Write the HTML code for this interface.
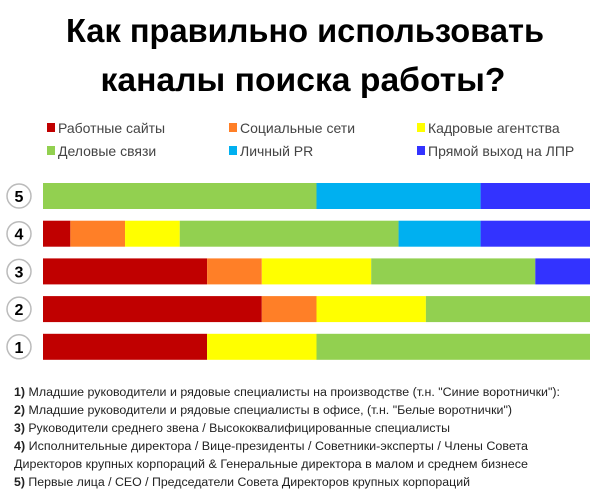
<!DOCTYPE html>
<html><head><meta charset="utf-8">
<style>
html,body{margin:0;padding:0;background:#fff;}
svg{display:block;font-family:"Liberation Sans","Noto Sans CJK SC",sans-serif;}
</style></head>
<body>
<svg id="chart" width="604" height="498" viewBox="0 0 604 498" xmlns="http://www.w3.org/2000/svg">
  <text x="305" y="42" text-anchor="middle" font-size="33" font-weight="bold" fill="#000" textLength="478" lengthAdjust="spacingAndGlyphs">Как правильно использовать</text>
  <text x="303" y="91" text-anchor="middle" font-size="33" font-weight="bold" fill="#000" textLength="405" lengthAdjust="spacingAndGlyphs">каналы поиска работы?</text>
  <g id="legend"></g>
  <g id="bars"></g>
  <g id="labels"></g>
  <g font-size="11.5" fill="#222">
    <text x="14" y="396" textLength="546" lengthAdjust="spacingAndGlyphs"><tspan font-weight="bold">1)</tspan> Младшие руководители и рядовые  специалисты на производстве (т.н. "Синие воротнички"):</text>
    <text x="14" y="414" textLength="498" lengthAdjust="spacingAndGlyphs"><tspan font-weight="bold">2)</tspan> Младшие руководители и рядовые  специалисты в офисе, (т.н. "Белые воротнички")</text>
    <text x="14" y="432" textLength="436" lengthAdjust="spacingAndGlyphs"><tspan font-weight="bold">3)</tspan> Руководители среднего звена  / Высококвалифицированные  специалисты</text>
    <text x="14" y="450" textLength="514" lengthAdjust="spacingAndGlyphs"><tspan font-weight="bold">4)</tspan> Исполнительные  директора / Вице-президенты / Советники-эксперты / Члены Совета</text>
    <text x="14" y="468" textLength="514" lengthAdjust="spacingAndGlyphs">Директоров крупных корпораций  &amp; Генеральные  директора в малом и среднем  бизнесе</text>
    <text x="14" y="486" textLength="456" lengthAdjust="spacingAndGlyphs"><tspan font-weight="bold">5)</tspan> Первые  лица / CEO  / Председатели Совета Директоров крупных корпораций</text>
  </g>
</svg>
<script>
const categories = ["5", "4", "3", "2", "1"];
const seriesNames = ["Работные сайты", "Социальные сети", "Кадровые агентства", "Деловые связи", "Личный PR", "Прямой выход на ЛПР"];
const seriesColors = ["#c00000", "#ff7f27", "#ffff00", "#92d050", "#00b0f0", "#3333ff"];
const rabotnye = [0, 5, 30, 40, 30];
const socialnye = [0, 10, 10, 10, 0];
const kadrovye = [0, 10, 20, 20, 20];
const delovye = [50, 40, 30, 30, 50];
const lichnyPR = [30, 15, 0, 0, 0];
const pryamoy = [20, 20, 10, 0, 0];
const seriesValues = [rabotnye, socialnye, kadrovye, delovye, lichnyPR, pryamoy];

const NS = "http://www.w3.org/2000/svg";
const x0 = 43, x1 = 590, rowTop = 183, rowStep = 37.7, barH = 26;
function xScale(v){ return x0 + (x1 - x0) * v / 100; }
function yScale(i){ return rowTop + i * rowStep; }

const bars = document.getElementById("bars");
const labels = document.getElementById("labels");
categories.forEach((cat, i) => {
  let acc = 0;
  seriesValues.forEach((vals, s) => {
    const v = vals[i];
    if (v > 0) {
      const r = document.createElementNS(NS, "rect");
      r.setAttribute("x", xScale(acc));
      r.setAttribute("y", yScale(i));
      r.setAttribute("width", xScale(acc + v) - xScale(acc));
      r.setAttribute("height", barH);
      r.setAttribute("fill", seriesColors[s]);
      
      
      bars.appendChild(r);
    }
    acc += v;
  });
  const c = document.createElementNS(NS, "circle");
  c.setAttribute("cx", 19);
  c.setAttribute("cy", yScale(i) + barH / 2);
  c.setAttribute("r", 12);
  c.setAttribute("fill", "#fff");
  c.setAttribute("stroke", "#bbb");
  c.setAttribute("stroke-width", "1.5");
  
  
  labels.appendChild(c);
  const t = document.createElementNS(NS, "text");
  t.setAttribute("x", 19);
  t.setAttribute("y", yScale(i) + barH / 2 + 6);
  t.setAttribute("text-anchor", "middle");
  t.setAttribute("font-size", "16");
  t.setAttribute("font-weight", "bold");
  t.textContent = cat;
  
  
  labels.appendChild(t);
});

const legend = document.getElementById("legend");
const legX = [47, 229, 417], legY = [133, 156];
seriesNames.forEach((name, s) => {
  const col = s % 3, row = Math.floor(s / 3);
  const sq = document.createElementNS(NS, "rect");
  sq.setAttribute("x", legX[col]);
  sq.setAttribute("y", legY[row] - 10);
  sq.setAttribute("width", 8);
  sq.setAttribute("height", 9);
  sq.setAttribute("fill", seriesColors[s]);
  
  
  legend.appendChild(sq);
  const t = document.createElementNS(NS, "text");
  t.setAttribute("x", legX[col] + 11);
  t.setAttribute("y", legY[row]);
  t.setAttribute("font-size", "14");
  t.setAttribute("fill", "#444");
  t.textContent = name;
  
  
  legend.appendChild(t);
});
</script>
</body></html>
